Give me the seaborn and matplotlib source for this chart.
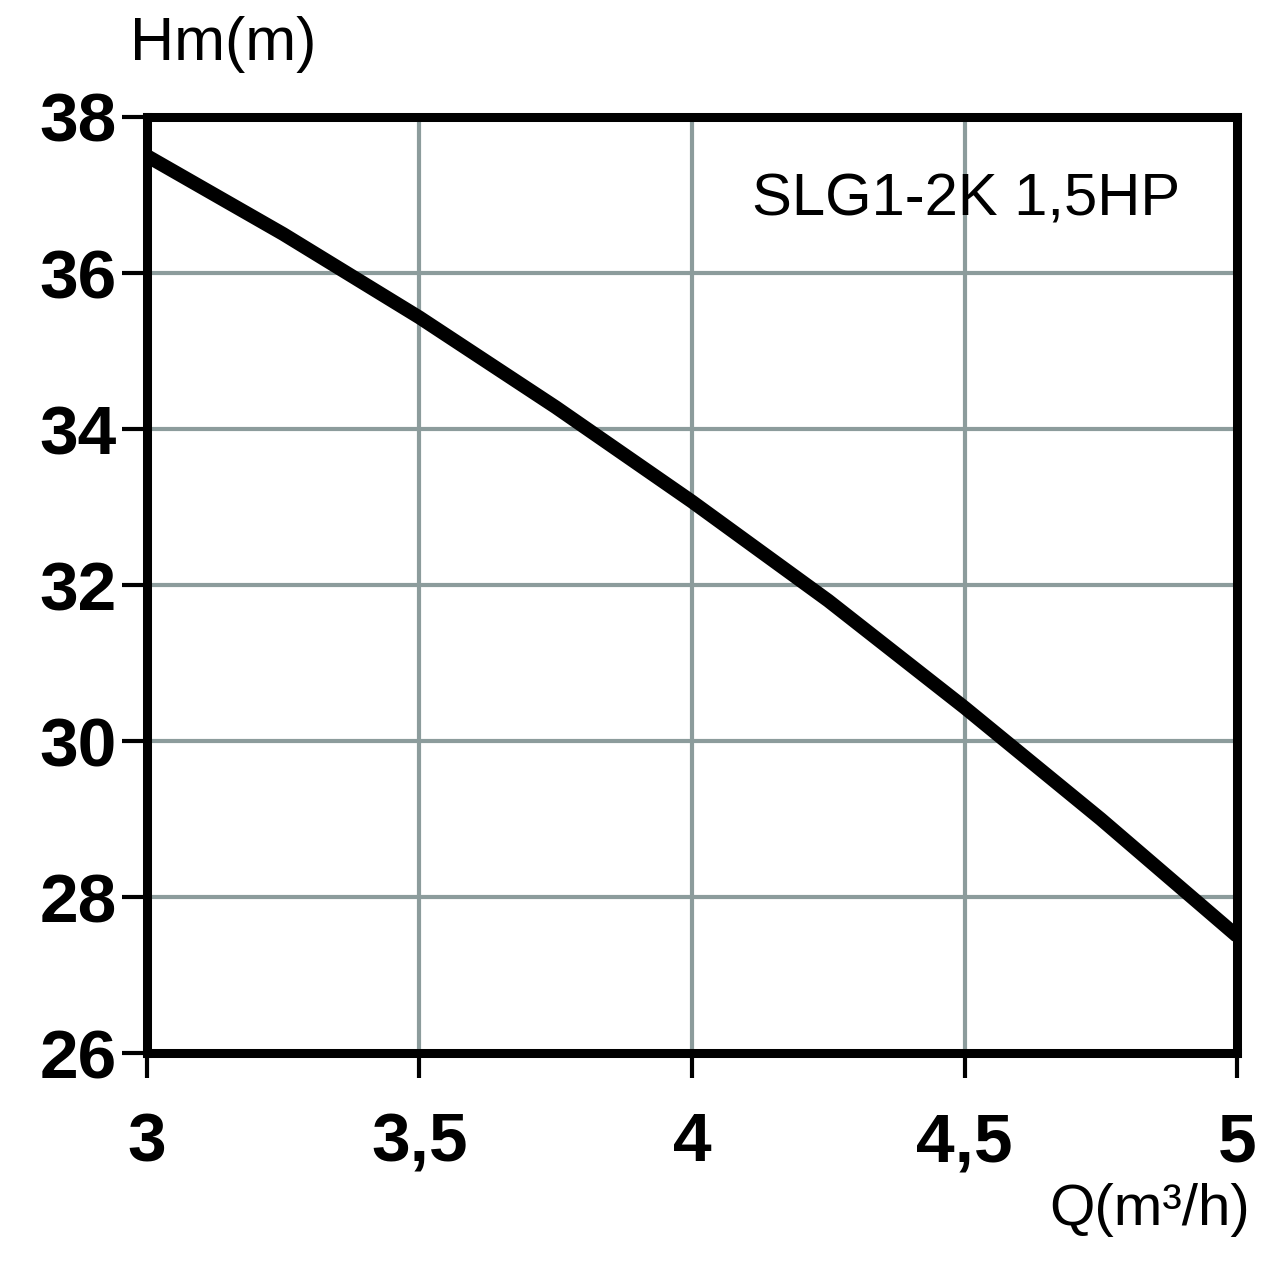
import pandas as pd
from matplotlib import pyplot as plt
from matplotlib import font_manager
import seaborn as sns

# Pump curve
flow = [3.0, 3.25, 3.5, 3.75, 4.0, 4.25, 4.5, 4.75, 5.0]
head = [37.5, 36.5, 35.43, 34.28, 33.07, 31.8, 30.43, 29.0, 27.5]

x_ticks = [3, 3.5, 4, 4.5, 5]
x_labels = ['3', '3,5', '4', '4,5', '5']
y_ticks = [26, 28, 30, 32, 34, 36, 38]
y_labels = ['26', '28', '30', '32', '34', '36', '38']

model_name = 'SLG1-2K 1,5HP'
y_title = 'Hm(m)'
x_title = 'Q(m³/h)'

df = pd.DataFrame({'Q': flow, 'H': head})

sns.set_theme(style="white")
names = {f.name for f in font_manager.fontManager.ttflist}
family = ['Liberation Sans Narrow', 'Liberation Sans', 'DejaVu Sans']
family = [f for f in family if f in names] or ['DejaVu Sans']
plt.rcParams['font.family'] = family

fig = plt.figure(figsize=(12.69, 12.8), dpi=100)
ax = fig.add_axes([0.1158, 0.1773, 0.859, 0.7313])

sns.lineplot(data=df, x='Q', y='H', ax=ax, color='black', linewidth=10,
             solid_joinstyle='round', solid_capstyle='butt')

ax.set_xlim(3, 5)
ax.set_ylim(26, 38)
ax.set_xticks(x_ticks)
ax.set_xticklabels(x_labels, fontsize=50, fontweight='bold', color='black')
ax.set_yticks(y_ticks)
ax.set_yticklabels(y_labels, fontsize=50, fontweight='bold', color='black')
ax.set_xlabel('')
ax.set_ylabel('')

ax.grid(True, color='#8c9c9c', linewidth=3)
ax.set_axisbelow(True)
for s in ax.spines.values():
    s.set_visible(True)
    s.set_color('black')
    s.set_linewidth(6.5)

ax.tick_params(axis='both', direction='out', length=18, width=3, color='black',
               bottom=True, left=True, labelcolor='black')
ax.tick_params(axis='x', pad=24)
ax.tick_params(axis='y', pad=4)

# Text labels
ax.text(0.948, 0.911, model_name, transform=ax.transAxes, ha='right', va='center',
        fontsize=43, color='black')
fig.text(0.1024, 0.965, y_title, ha='left', va='center', fontsize=44, color='black')
fig.text(0.985, 0.0547, x_title, ha='right', va='center', fontsize=42, color='black')

plt.savefig('out.png', dpi=100)
plt.close()
